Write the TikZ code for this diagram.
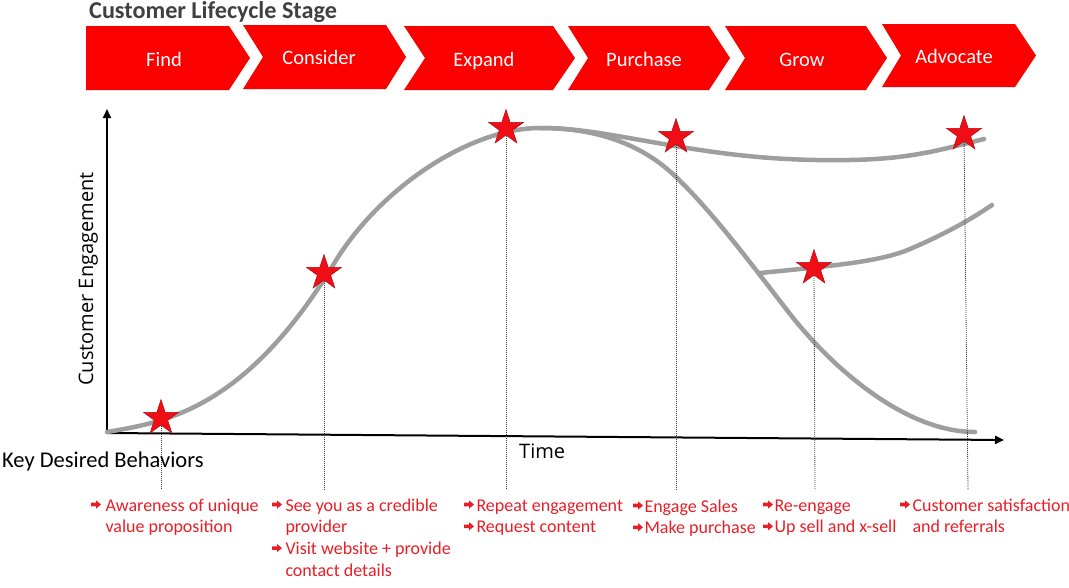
\documentclass[tikz,border=0pt]{standalone}
\usepackage{fontspec}
\setmainfont{Carlito}
\newfontfamily\osans{Open Sans}
\usetikzlibrary{shapes.geometric,arrows.meta}
\definecolor{chevred}{RGB}{252,0,0}
\definecolor{txtred}{RGB}{232,30,38}
\definecolor{starred}{RGB}{240,14,22}
\definecolor{curvegray}{RGB}{158,158,158}
\definecolor{titlegray}{RGB}{64,64,64}
\definecolor{dotgray}{RGB}{60,60,60}
\newcommand\bul{\tikz[baseline=0pt]\fill[txtred] (0pt,4.7pt) -- (5pt,4.7pt) -- (5pt,2.5pt) -- (9.8pt,6.5pt) -- (5pt,10.5pt) -- (5pt,8.3pt) -- (0pt,8.3pt) -- cycle;}
\newcommand\btab[2]{\begin{tabular}[t]{@{}l@{\hspace{#1}}l@{}}#2\end{tabular}}
\newcommand\chevron[6]{\fill[chevred] (#1,#5) -- (#3,#5) -- (#4,{(#5+#6)/2}) -- (#3,#6) -- (#1,#6) -- (#2,{(#5+#6)/2}) -- cycle;}
\begin{document}
\begin{tikzpicture}[x=1pt,y=-1pt,
  stagelbl/.style={text=white,font=\fontsize{20.5}{24}\selectfont,anchor=base,inner sep=0pt},
  btxt/.style={text=txtred,font=\fontsize{18}{21.8}\selectfont,anchor=base west,inner sep=0pt},
  axislbl/.style={font=\osans\fontsize{20}{24}\selectfont,inner sep=0pt},
  axisline/.style={line width=2pt,black,-{Triangle[length=9pt,width=8pt]}},
  curve/.style={line width=4.5pt,curvegray,line cap=round},
  dotline/.style={dotgray,line width=0.8pt,dash pattern=on 1pt off 1pt},
  star5/.style={star,star points=5,star point ratio=2.618,minimum size=37pt,inner sep=0pt,fill=starred,draw=starred!75!black,line width=0.5pt}]
\useasboundingbox (0,0) rectangle (1069,587);
% chevrons
\fill[chevred] (86,26) -- (229,26) -- (250,58) -- (229,90) -- (86,90) -- cycle;
\chevron{243}{263}{386}{406}{25}{89}
\chevron{404}{425}{553}{575}{26}{90}
\chevron{568}{588}{709}{730}{26}{90}
\chevron{725}{745}{866}{887}{26}{90}
\chevron{882}{901}{1015}{1036}{24}{87}
\node[anchor=base west,inner sep=0pt,text=titlegray,font=\bfseries\fontsize{24.2}{27}\selectfont] (title) at (89,18) {Customer Lifecycle Stage};
\node[stagelbl] (find) at (164,66) {Find};
\node[stagelbl] (consider) at (319,64) {Consider};
\node[stagelbl] (expand) at (484,66) {Expand};
\node[stagelbl] (purchase) at (644,66) {Purchase};
\node[stagelbl] (grow) at (802,66) {Grow};
\node[stagelbl] (advocate) at (954,63) {Advocate};
% axes
\coordinate (O) at (107,433);
\coordinate (Y) at (107,109);
\coordinate (X) at (1004,440);
\draw[axisline] (O) -- (Y);
\draw[axisline] (O) -- (X);
% curves
\draw[curve] (107,432) .. controls (165,422) and (245,410.5) .. (335,262)
  .. controls (380,188) and (470,128) .. (540,128)
  .. controls (585,128) and (635,138) .. (675,176)
  .. controls (713,212) and (755,269) .. (790,314)
  .. controls (825,359) and (900,432) .. (975,432);
\draw[curve] (540,128) .. controls (580,128) and (610,135) .. (675,146)
  .. controls (740,157) and (790,161) .. (850,160)
  .. controls (910,159) and (940,150) .. (984,139);
\draw[curve] (760,273) .. controls (830,266) and (880,262) .. (910,249)
  .. controls (945,234) and (970,220) .. (992,205);
% star positions and dotted lines
\coordinate (c1) at (161,418); \coordinate (d1) at (161,490);
\coordinate (c2) at (324,273); \coordinate (d2) at (324,490);
\coordinate (c3) at (506,128); \coordinate (d3) at (506,490);
\coordinate (c4) at (676,137); \coordinate (d4) at (676,490);
\coordinate (c5) at (964,134); \coordinate (d5) at (968,490);
\coordinate (c6) at (814,268); \coordinate (d6) at (815,490);
\foreach \i in {1,...,6} \draw[dotline] (c\i) -- (d\i);
\foreach \i in {1,...,6} \node[star5] (s\i) at (c\i) {};
% axis labels
\node[axislbl,rotate=90,anchor=base] (ylbl) at (93,279) {Customer Engagement};
\node[axislbl,anchor=base west] (xlbl) at (519,458) {Time};
\node[anchor=base west,inner sep=0pt,font=\fontsize{22.5}{26}\selectfont] (kdb) at (2,467) {Key Desired Behaviors};
% behaviours
\node[btxt] (b1) at (91,511) {\btab{4.5pt}{\bul & Awareness of unique\\ & value proposition}};
\node[btxt] (b2) at (272,511) {\btab{3.5pt}{\bul & See you as a credible\\ & provider\\ \bul & Visit website + provide\\ & contact details}};
\node[btxt] (b3) at (464,511) {\btab{2.5pt}{\bul & Repeat engagement\\ \bul & Request content}};
\node[btxt] (b4) at (633,512) {\btab{1.5pt}{\bul & Engage Sales\\ \bul & Make purchase}};
\node[btxt] (b5) at (763,511) {\btab{1.5pt}{\bul & Re-engage\\ \bul & Up sell and x-sell}};
\node[btxt] (b6) at (900,511) {\btab{2.5pt}{\bul & Customer satisfaction\\ & and referrals}};
\end{tikzpicture}
\end{document}
